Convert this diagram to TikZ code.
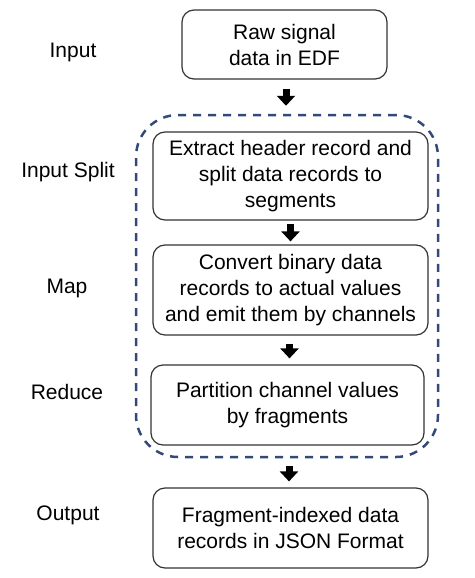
\documentclass[tikz,border=0pt]{standalone}
\usepackage{fontspec}
\setmainfont{Liberation Sans}
\usetikzlibrary{arrows.meta, positioning}
\definecolor{daskblue}{HTML}{34497A}
\definecolor{boxline}{HTML}{333333}

\begin{document}
\begin{tikzpicture}[x=1pt, y=-1pt,
		every node/.style={font=\fontsize{21}{26}\selectfont},
		stagebox/.style={draw=boxline, line width=1.2pt, rounded corners=12pt, align=center, inner sep=0pt},
		stagelabel/.style={align=center},
		blockarrow/.style={-{Triangle[width=18pt, length=10pt]}, line width=7pt, black}]
			\useasboundingbox (0,0) rectangle (474,578);

			% Draw the boxes
			\node[stagebox, minimum width=205pt, minimum height=69pt] (raw) at (284.5, 44.5) {Raw signal\\data in EDF};
			\node[stagebox, minimum width=275pt, minimum height=88pt] (split) at (290.5, 176) {Extract header record and\\split data records to\\segments};
			\node[stagebox, minimum width=275pt, minimum height=90pt] (map) at (290.5, 290) {Convert binary data\\records to actual values\\and emit them by channels};
			\node[stagebox, minimum width=273pt, minimum height=80pt] (reduce) at (287.5, 405) {Partition channel values\\by fragments};
			\node[stagebox, minimum width=275pt, minimum height=80pt] (output) at (290.5, 528) {Fragment-indexed data\\records in JSON Format};

			% Draw the dashed frame round the job
			\node[draw=daskblue, line width=2.5pt, dash pattern=on 8pt off 7pt, rounded corners=42pt,
				minimum width=302pt, minimum height=342pt] (job) at (287, 286) {};

			% Draw the labels on the left
			\node[stagelabel] (linput) at (73, 52) {Input};
			\node[stagelabel] (lsplit) at (68, 172) {Input Split};
			\node[stagelabel] (lmap) at (67, 288) {Map};
			\node[stagelabel] (lreduce) at (67, 392) {Reduce};
			\node[stagelabel] (loutput) at (68, 515) {Output};

			% Draw the arrows between the stages
			\draw[blockarrow, shorten <=9pt, shorten >=8pt] (raw.south -| job.north) ++(-1,0) coordinate (a1) -- (job.north -| a1);
			\draw[blockarrow, shorten <=3pt, shorten >=3pt] (split) -- (map);
			\draw[blockarrow, shorten <=8pt, shorten >=6pt] (map.south) ++(-1,0) coordinate (a3) -- (reduce.north -| a3);
			\draw[blockarrow, shorten <=8pt, shorten >=6pt] (job.south) ++(2,0) coordinate (a4) -- (output.north -| a4);

		\end{tikzpicture}
\end{document}
